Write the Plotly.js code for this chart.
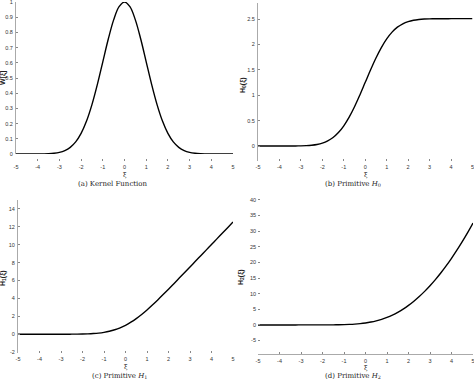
<!DOCTYPE html>
<html><head><meta charset="utf-8">
<script src="https://cdn.plot.ly/plotly-3.0.1.min.js"></script>
<style>html,body{margin:0;padding:0;background:#fff}#c{width:474px;height:383px}</style>
</head><body><div id="c"></div>
<script>
const xi = [-5,-4.75,-4.5,-4.25,-4,-3.75,-3.5,-3.25,-3,-2.75,-2.5,-2.25,-2,-1.75,-1.5,-1.25,-1,-0.75,-0.5,-0.25,0,0.25,0.5,0.75,1,1.25,1.5,1.75,2,2.25,2.5,2.75,3,3.25,3.5,3.75,4,4.25,4.5,4.75,5];
const kernelW = [0,0,0,0.0001,0.0003,0.0009,0.0022,0.0051,0.0111,0.0228,0.0439,0.0796,0.1353,0.2163,0.3247,0.4578,0.6065,0.7548,0.8825,0.9692,1,0.9692,0.8825,0.7548,0.6065,0.4578,0.3247,0.2163,0.1353,0.0796,0.0439,0.0228,0.0111,0.0051,0.0022,0.0009,0.0003,0.0001,0,0,0];
const primH0 = [0,0,0,0,0.0001,0.0002,0.0006,0.0014,0.0034,0.0075,0.0156,0.0306,0.0570,0.1004,0.1675,0.2648,0.3977,0.5681,0.7734,1.0059,1.2533,1.5007,1.7332,1.9385,2.1089,2.2418,2.3391,2.4062,2.4496,2.4760,2.4910,2.4991,2.5032,2.5052,2.5060,2.5064,2.5066,2.5066,2.5066,2.5066,2.5066];
const primH1 = [0,0,0,0,0,0,0.0001,0.0004,0.0009,0.0022,0.0049,0.0107,0.0213,0.0406,0.0734,0.1268,0.2088,0.3287,0.4958,0.7177,1.0,1.3444,1.7491,2.2087,2.7154,3.2601,3.8334,4.4272,5.0345,5.6506,6.2714,6.8953,7.5207,8.1470,8.7732,9.3999,10.0267,10.6530,11.2797,11.9064,12.5330];
const primH2 = [0,0,0,0,0,0,0,0,0.0003,0.0007,0.0017,0.0032,0.0072,0.0147,0.0287,0.0532,0.0944,0.1608,0.2628,0.4132,0.6267,0.9184,1.3039,1.7975,2.4122,3.1584,4.0446,5.0769,6.2593,7.5949,9.0848,10.7307,12.5327,14.4915,16.606,18.878,21.306,23.891,26.633,29.531,32.586];
const xTicks = [-5,-4,-3,-2,-1,0,1,2,3,4,5];
const yTicksA = [0,0.1,0.2,0.3,0.4,0.5,0.6,0.7,0.8,0.9,1];
const yTicksB = [0,0.5,1,1.5,2,2.5];
const yTicksC = [-2,0,2,4,6,8,10,12,14];
const yTicksD = [-5,0,5,10,15,20,25,30,35,40];
const captions = ['(a) Kernel Function','(b) Primitive <i>H</i><sub>0</sub>','(c) Primitive <i>H</i><sub>1</sub>','(d) Primitive <i>H</i><sub>2</sub>'];
const yTitles = ['W[ξ]','H<sub>0</sub>(ξ)','H<sub>1</sub>(ξ)','H<sub>2</sub>(ξ)'];

const W=474,H=383;
const px=v=>v/W, py=v=>(H-v)/H;
const line={color:'#000',width:1.4,shape:'spline'};
const traces=[
 {x:xi,y:kernelW,xaxis:'x',yaxis:'y',mode:'lines',line},
 {x:xi,y:primH0,xaxis:'x2',yaxis:'y2',mode:'lines',line},
 {x:xi,y:primH1,xaxis:'x3',yaxis:'y3',mode:'lines',line},
 {x:xi,y:primH2,xaxis:'x4',yaxis:'y4',mode:'lines',line}
];
const tickF={family:'Liberation Sans, Arial, sans-serif',size:5.5,color:'#333'};
function xa(dom,anchor,pos,showline){
 const o={domain:dom,range:[-5,5],tickmode:'array',tickvals:xTicks,ticktext:xTicks.map(String),ticks:'inside',ticklen:2,tickcolor:'#888',tickfont:tickF,
  showgrid:false,zeroline:false,showline:showline,linecolor:'#aaa',linewidth:1,ticklabelstandoff:1,ticklabeloverflow:'allow',fixedrange:true};
 if(pos!==null){o.anchor='free';o.position=pos;} else o.anchor=anchor;
 return o;
}
function ya(dom,anchor,range,vals,showline){
 return {domain:dom,anchor:anchor,range:range,tickmode:'array',tickvals:vals,ticktext:vals.map(String),ticks:'inside',ticklen:2,tickcolor:'#888',tickfont:tickF,
  showgrid:false,zeroline:false,showline:showline,linecolor:'#aaa',linewidth:1,ticklabelstandoff:1,ticklabeloverflow:'allow',fixedrange:true};
}
const layout={
 width:W,height:H,margin:{l:0,r:0,t:0,b:0},showlegend:false,paper_bgcolor:'#fff',plot_bgcolor:'#fff',
 xaxis:xa([px(16),px(233)],'y',py(161),false),
 yaxis:ya([py(154),py(2)],'x',[0,1],yTicksA,true),
 xaxis2:xa([px(258),px(472.5)],'y2',null,false),
 yaxis2:ya([py(161),py(3)],'x2',[-0.295,2.815],yTicksB,true),
 xaxis3:xa([px(18),px(233)],'y3',null,false),
 yaxis3:ya([py(353),py(200)],'x3',[-2.1,15],yTicksC,true),
 xaxis4:xa([px(258),px(473)],'y4',null,true),
 yaxis4:ya([py(354),py(198)],'x4',[-9.3,40.6],yTicksD,false),
 annotations:[]
};
const capPos=[[113,184],[353,184],[119,376],[353,376]];
const xiPos=[[124.5,175],[365.5,175],[125.5,367],[365.5,368]];
const ytPos=[[3,78],[243,85],[3,278],[241,277]];
for(let i=0;i<4;i++){
 layout.annotations.push({text:captions[i],x:px(capPos[i][0]),y:py(capPos[i][1]),xref:'paper',yref:'paper',showarrow:false,
  xanchor:'center',yanchor:'middle',font:{family:'DejaVu Serif, serif',size:7,color:'#222'}});
 layout.annotations.push({text:'ξ',x:px(xiPos[i][0]),y:py(xiPos[i][1]),xref:'paper',yref:'paper',showarrow:false,
  xanchor:'center',yanchor:'middle',font:{family:'DejaVu Serif, serif',size:6.5,color:'#333'}});
 layout.annotations.push({text:yTitles[i],x:px(ytPos[i][0]),y:py(ytPos[i][1]),xref:'paper',yref:'paper',showarrow:false,textangle:-90,
  xanchor:'center',yanchor:'middle',font:{family:'Liberation Sans, Arial, sans-serif',size:7,color:'#222',weight:'bold'}});
}
Plotly.newPlot('c',traces,layout,{displayModeBar:false,staticPlot:true});
</script></body></html>
